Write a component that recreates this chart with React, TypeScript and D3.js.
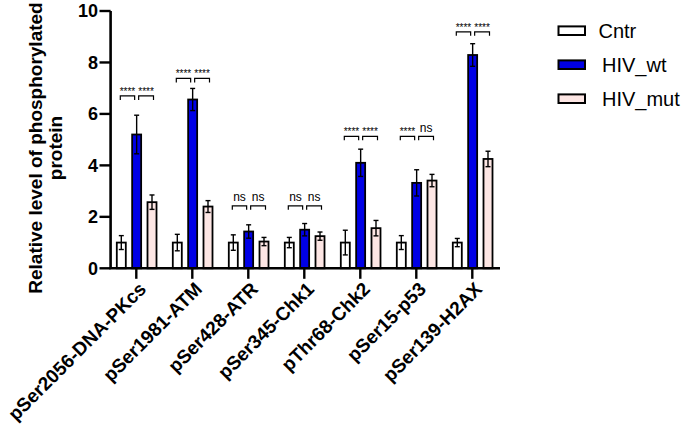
import React from "react";
import * as d3 from "d3";

/* DATA */
const categories = [
  "pSer2056-DNA-PKcs",
  "pSer1981-ATM",
  "pSer428-ATR",
  "pSer345-Chk1",
  "pThr68-Chk2",
  "pSer15-p53",
  "pSer139-H2AX",
];
const seriesNames = ["Cntr", "HIV_wt", "HIV_mut"];
const cntrMean = [1, 1, 1, 1, 1, 1, 1];
const cntrSd = [0.27, 0.32, 0.3, 0.2, 0.48, 0.27, 0.16];
const wtMean = [5.2, 6.56, 1.43, 1.5, 4.1, 3.32, 8.29];
const wtSd = [0.75, 0.43, 0.26, 0.24, 0.53, 0.51, 0.44];
const mutMean = [2.57, 2.4, 1.04, 1.25, 1.56, 3.41, 4.25];
const mutSd = [0.28, 0.23, 0.16, 0.16, 0.3, 0.24, 0.3];
const sigLeft = ["****", "****", "ns", "ns", "****", "****", "****"];
const sigRight = ["****", "****", "ns", "ns", "****", "ns", "****"];
const sigLevel = [6.7, 7.38, 2.43, 2.43, 5.13, 5.13, 9.19];
const yTicks = [0, 2, 4, 6, 8, 10];

const means = [cntrMean, wtMean, mutMean];
const sds = [cntrSd, wtSd, mutSd];
const fills = ["#ffffff", "#0000e6", "#fde6e4"];

const App = () => {
  /* Size */
  const width = 685;
  const height = 436;
  const font = "'Liberation Sans', Arial, sans-serif";

  /* Scales */
  const y = d3.scaleLinear().domain([0, 10]).range([268.3, 11]);
  const x = d3.scaleBand().domain(categories).range([108.3, 500.3]);
  const xSub = d3.scalePoint().domain(seriesNames).range([-15, 15.7]);
  const barW = 9;
  const capW = 5;
  const cx = (c: string) => (x(c) as number) + x.bandwidth() / 2;

  return (
    <svg
      width={width}
      height={height}
      style={{ position: "absolute", left: 0, top: 0, background: "#fff" }}
      fontFamily={font}
    >
      {/* Bars + error bars */}
      {categories.map((c, i) => (
        <g key={c}>
          {seriesNames.map((s, k) => {
            const bx = cx(c) + (xSub(s) as number);
            const m = means[k][i];
            const e = sds[k][i];
            return (
              <g key={s}>
                <rect
                  x={bx - barW / 2}
                  y={y(m)}
                  width={barW}
                  height={y(0) - y(m)}
                  fill={fills[k]}
                  stroke="#000"
                  strokeWidth={1.8}
                />
                <line x1={bx} x2={bx} y1={y(m + e)} y2={y(m - e)} stroke="#000" strokeWidth={1.4} />
                <line x1={bx - capW / 2} x2={bx + capW / 2} y1={y(m + e)} y2={y(m + e)} stroke="#000" strokeWidth={1.4} />
                <line x1={bx - capW / 2} x2={bx + capW / 2} y1={y(m - e)} y2={y(m - e)} stroke="#000" strokeWidth={1.4} />
              </g>
            );
          })}
          {/* Significance brackets */}
          {[
            { x1: cx(c) + (xSub("Cntr") as number) - 1, x2: cx(c) + (xSub("HIV_wt") as number) - 2, label: sigLeft[i] },
            { x1: cx(c) + (xSub("HIV_wt") as number) + 2, x2: cx(c) + (xSub("HIV_mut") as number) + 1.5, label: sigRight[i] },
          ].map((b, j) => {
            const by = y(sigLevel[i]);
            const star = b.label !== "ns";
            return (
              <g key={j}>
                <path
                  d={`M${b.x1},${by + 4}V${by}H${b.x2}V${by + 4}`}
                  fill="none"
                  stroke="#000"
                  strokeWidth={1.2}
                />
                <text
                  x={(b.x1 + b.x2) / 2}
                  y={star ? by - 1 : by - 4.5}
                  textAnchor="middle"
                  fontSize={star ? 10 : 12}
                  fill="#000"
                >
                  {b.label}
                </text>
              </g>
            );
          })}
        </g>
      ))}

      {/* Y axis */}
      <line x1={110.6} x2={110.6} y1={y(10)} y2={y(0)} stroke="#000" strokeWidth={2.6} />
      {yTicks.map((t) => (
        <g key={t}>
          <line x1={99.5} x2={110.6} y1={y(t)} y2={y(t)} stroke="#000" strokeWidth={2.4} />
          <text x={98} y={y(t) + 6.3} textAnchor="end" fontSize={18} fontWeight="bold" fill="#000">
            {t}
          </text>
        </g>
      ))}

      {/* X axis */}
      <line x1={109.3} x2={500} y1={y(0)} y2={y(0)} stroke="#000" strokeWidth={2.6} />
      {categories.map((c) => (
        <g key={c}>
          <line x1={cx(c)} x2={cx(c)} y1={y(0)} y2={y(0) + 10.5} stroke="#000" strokeWidth={2.4} />
          <text
            transform={`translate(${cx(c) + 11},${y(0) + 22}) rotate(-45)`}
            textAnchor="end"
            fontSize={19}
            fontWeight="bold"
            fill="#000"
          >
            {c}
          </text>
        </g>
      ))}

      {/* Y axis title */}
      <text
        transform="translate(42,148) rotate(-90)"
        textAnchor="middle"
        fontSize={19}
        fontWeight="bold"
        fill="#000"
      >
        <tspan x={0} y={0}>Relative level of phosphorylated</tspan>
        <tspan x={0} y={20}>protein</tspan>
      </text>

      {/* Legend */}
      {seriesNames.map((s, k) => (
        <g key={s} transform={`translate(558.5,${30.7 + k * 34})`}>
          <rect x={0} y={-4.3} width={26.5} height={8.6} fill={fills[k]} stroke="#000" strokeWidth={2} />
          <text x={k === 0 ? 40 : 43.5} y={7} fontSize={20} fill="#000">
            {s}
          </text>
        </g>
      ))}
    </svg>
  );
};

export default App;
